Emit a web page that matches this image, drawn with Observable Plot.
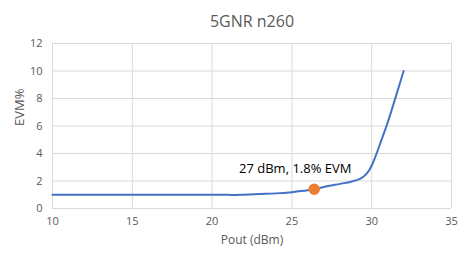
<!DOCTYPE html>
<html>
<head>
<meta charset="utf-8">
<script src="https://cdn.jsdelivr.net/npm/d3@7"></script>
<script src="https://cdn.jsdelivr.net/npm/@observablehq/plot@0.6"></script>
<style>
  html, body { margin: 0; padding: 0; background: #fff; }
  #chart svg { display: block; }
</style>
</head>
<body>
<div id="chart"></div>
<script>
const title = "5GNR n260";
const xLabel = "Pout (dBm)";
const yLabel = "EVM%";
const xTicks = [10, 15, 20, 25, 30, 35];
const yTicks = [0, 2, 4, 6, 8, 10, 12];

const pout = [10, 12, 14, 16, 18, 20, 21, 21.5, 22, 23, 24, 25, 26, 26.4, 27, 28, 28.7, 29.3, 29.7, 30.0, 30.3, 30.6, 31.0, 31.5, 32];
const evm  = [1.0, 1.0, 1.0, 1.0, 1.0, 1.0, 1.0, 0.98, 1.0, 1.05, 1.1, 1.19, 1.32, 1.4, 1.56, 1.79, 1.95, 2.17, 2.55, 3.13, 3.98, 4.95, 6.25, 8.1, 10.0];

const markerX = [26.4];
const markerY = [1.4];
const annotation = ["27 dBm, 1.8% EVM"];

const data = pout.map((x, i) => ({x, y: evm[i]}));
const marker = markerX.map((x, i) => ({x, y: markerY[i], label: annotation[i]}));

const chart = Plot.plot({
  width: 474,
  height: 261,
  marginLeft: 52,
  marginRight: 23,
  marginTop: 43,
  marginBottom: 53,
  style: {fontFamily: "'Open Sans', 'Noto Sans', sans-serif", fontSize: "11px", color: "#595959", background: "#fff"},
  x: {domain: [10, 35], ticks: xTicks, tickSize: 0, tickPadding: 9, label: null},
  y: {domain: [0, 12], ticks: yTicks, tickSize: 0, tickPadding: 10, label: null},
  marks: [
    Plot.gridX(xTicks, {stroke: "#d9d9d9", strokeOpacity: 1}),
    Plot.gridY(yTicks, {stroke: "#d9d9d9", strokeOpacity: 1}),
    Plot.axisX({ticks: xTicks, tickSize: 0, tickPadding: 9, fill: "#595959", fontSize: 11}),
    Plot.axisY({ticks: yTicks, tickSize: 0, tickPadding: 10, fill: "#595959", fontSize: 11}),
    Plot.line(data, {x: "x", y: "y", stroke: "#4472C4", strokeWidth: 2, curve: "catmull-rom"}),
    Plot.dot(marker, {x: "x", y: "y", r: 5, fill: "#ED7D31", stroke: "#ED7D31"}),
    Plot.text(marker, {x: "x", y: "y", text: "label", dx: -19, dy: -20, fill: "#000", fontSize: 13}),
    Plot.text([title], {frameAnchor: "top", dy: -28, text: d => d, fill: "#595959", fontSize: 16}),
    Plot.text([xLabel], {frameAnchor: "bottom", dy: 35, text: d => d, fill: "#595959", fontSize: 12}),
    Plot.text([yLabel], {frameAnchor: "left", dx: -33, rotate: -90, text: d => d, fill: "#595959", fontSize: 13})
  ]
});
document.getElementById("chart").appendChild(chart);
</script>
</body>
</html>
